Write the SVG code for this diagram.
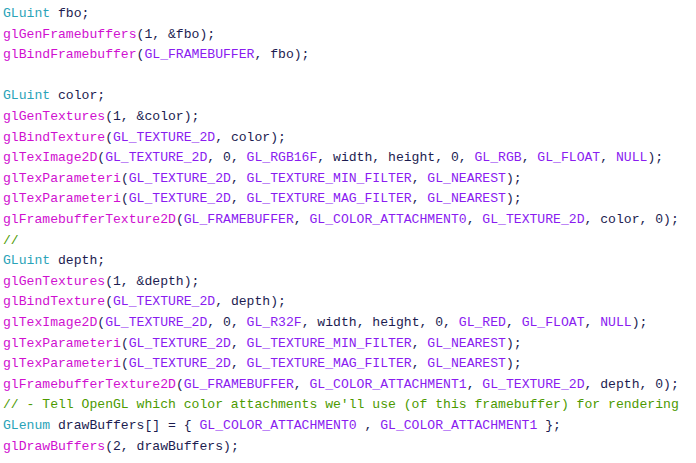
<svg xmlns="http://www.w3.org/2000/svg" width="696" height="463" viewBox="0 0 696 463">
<style>
text{font-family:"Liberation Mono","DejaVu Sans Mono",monospace;font-size:13.1px;fill:#1c1c50;white-space:pre}
.t{fill:#2aa3b8}.f{fill:#d010d0}.c{fill:#8a1cf0}.m{fill:#4c9a00}
</style>
<rect width="696" height="463" fill="#fff"/>
<g id="code" xml:space="preserve">
<text x="3" y="17"><tspan class="t">GLuint</tspan> fbo;</text>
<text x="3" y="37.6"><tspan class="f">glGenFramebuffers</tspan>(1, &amp;fbo);</text>
<text x="3" y="58.2"><tspan class="f">glBindFramebuffer</tspan>(<tspan class="c">GL_FRAMEBUFFER</tspan>, fbo);</text>
<text x="3" y="99.4"><tspan class="t">GLuint</tspan> color;</text>
<text x="3" y="120"><tspan class="f">glGenTextures</tspan>(1, &amp;color);</text>
<text x="3" y="140.6"><tspan class="f">glBindTexture</tspan>(<tspan class="c">GL_TEXTURE_2D</tspan>, color);</text>
<text x="3" y="161.2"><tspan class="f">glTexImage2D</tspan>(<tspan class="c">GL_TEXTURE_2D</tspan>, 0, <tspan class="c">GL_RGB16F</tspan>, width, height, 0, <tspan class="c">GL_RGB</tspan>, <tspan class="c">GL_FLOAT</tspan>, <tspan class="c">NULL</tspan>);</text>
<text x="3" y="181.8"><tspan class="f">glTexParameteri</tspan>(<tspan class="c">GL_TEXTURE_2D</tspan>, <tspan class="c">GL_TEXTURE_MIN_FILTER</tspan>, <tspan class="c">GL_NEAREST</tspan>);</text>
<text x="3" y="202.4"><tspan class="f">glTexParameteri</tspan>(<tspan class="c">GL_TEXTURE_2D</tspan>, <tspan class="c">GL_TEXTURE_MAG_FILTER</tspan>, <tspan class="c">GL_NEAREST</tspan>);</text>
<text x="3" y="223"><tspan class="f">glFramebufferTexture2D</tspan>(<tspan class="c">GL_FRAMEBUFFER</tspan>, <tspan class="c">GL_COLOR_ATTACHMENT0</tspan>, <tspan class="c">GL_TEXTURE_2D</tspan>, color, 0);</text>
<text x="3" y="243.6" class="m">//</text>
<text x="3" y="264.2"><tspan class="t">GLuint</tspan> depth;</text>
<text x="3" y="284.8"><tspan class="f">glGenTextures</tspan>(1, &amp;depth);</text>
<text x="3" y="305.4"><tspan class="f">glBindTexture</tspan>(<tspan class="c">GL_TEXTURE_2D</tspan>, depth);</text>
<text x="3" y="326"><tspan class="f">glTexImage2D</tspan>(<tspan class="c">GL_TEXTURE_2D</tspan>, 0, <tspan class="c">GL_R32F</tspan>, width, height, 0, <tspan class="c">GL_RED</tspan>, <tspan class="c">GL_FLOAT</tspan>, <tspan class="c">NULL</tspan>);</text>
<text x="3" y="346.6"><tspan class="f">glTexParameteri</tspan>(<tspan class="c">GL_TEXTURE_2D</tspan>, <tspan class="c">GL_TEXTURE_MIN_FILTER</tspan>, <tspan class="c">GL_NEAREST</tspan>);</text>
<text x="3" y="367.2"><tspan class="f">glTexParameteri</tspan>(<tspan class="c">GL_TEXTURE_2D</tspan>, <tspan class="c">GL_TEXTURE_MAG_FILTER</tspan>, <tspan class="c">GL_NEAREST</tspan>);</text>
<text x="3" y="387.8"><tspan class="f">glFramebufferTexture2D</tspan>(<tspan class="c">GL_FRAMEBUFFER</tspan>, <tspan class="c">GL_COLOR_ATTACHMENT1</tspan>, <tspan class="c">GL_TEXTURE_2D</tspan>, depth, 0);</text>
<text x="3" y="408.4" class="m">// - Tell OpenGL which color attachments we'll use (of this framebuffer) for rendering</text>
<text x="3" y="429"><tspan class="t">GLenum</tspan> drawBuffers[] = { <tspan class="c">GL_COLOR_ATTACHMENT0</tspan> , <tspan class="c">GL_COLOR_ATTACHMENT1</tspan> };</text>
<text x="3" y="449.6"><tspan class="f">glDrawBuffers</tspan>(2, drawBuffers);</text>
</g>
</svg>
